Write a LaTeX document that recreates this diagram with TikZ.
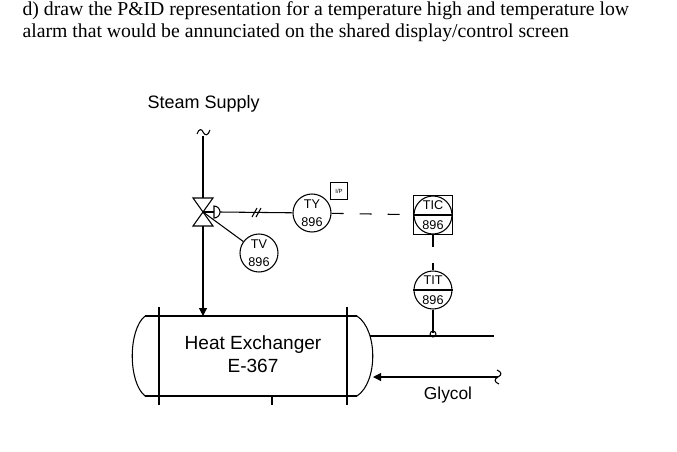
\documentclass[tikz,border=0pt]{standalone}
\usepackage{fontspec}
\setmainfont{Liberation Serif}
\newfontfamily\arial{Liberation Sans}
\usetikzlibrary{arrows.meta}
\begin{document}
\begin{tikzpicture}[x=0.75pt,y=-0.75pt,line width=0.8pt,
  inst/.style={circle,draw,minimum size=28.5pt,inner sep=0pt},
  itxt/.style={font=\arial\fontsize{9.5}{10}\selectfont},
  sig/.style={dash pattern=on 9pt off 12pt},
  lbl/.style={font=\arial\fontsize{13}{15}\selectfont,inner sep=0pt}]
\useasboundingbox (0,0) rectangle (677,451);
\node[anchor=north west,align=left,inner sep=0pt,font=\fontsize{14.8}{16.5}\selectfont] (q) at (22,1)
 {d) draw the P\&ID representation for a temperature high and temperature low\\alarm that would be annunciated on the shared display/control screen};
\node[lbl,anchor=west,font=\arial\fontsize{13.5}{15}\selectfont] (ss) at (147,104) {Steam Supply};
% vessel
\coordinate (vtl) at (145,316); \coordinate (vtr) at (357,316);
\coordinate (vbl) at (145,396); \coordinate (vbr) at (357,396);
\draw (vtl) -- (vtr) (vbl) -- (vbr);
\draw (vtl) .. controls (128,330) and (128,382) .. (vbl);
\draw (vtr) .. controls (378,330) and (378,382) .. (vbr);
\draw (159,307) -- (159,405) (347,307) -- (347,405) (272,396) -- (272,405);
\node[lbl,align=center,font=\arial\fontsize{14.3}{17}\selectfont] (hx) at (253,354) {Heat Exchanger\\E-367};
% steam line
\coordinate (vc) at (203,212);
\draw (203,136) -- (203,198);
\draw (197,134) .. controls (199,128) and (202,129) .. (203,132) .. controls (205,136) and (208,136) .. (210,130);
\draw[-{Triangle[length=6pt,width=6pt]}] (203,226) -- (203,316);
\draw (193,198) -- (213,198) -- (193,226) -- (213,226) -- cycle;
\draw (vc) -- (214,212);
\draw (214,218) arc[start angle=-90,end angle=90,radius=4.5pt] -- cycle;
\node[inst] (ty) at (312,213) {}; \node[itxt] at (312,204) {TY}; \node[itxt] at (312,222) {896};
\draw (220,212) -- (ty);
\draw (252,217) -- (257,208) (256,217) -- (261,208);
\node[draw,minimum size=13pt,inner sep=0pt,font=\arial\fontsize{4.5}{5}\selectfont] (ip) at (339,191) {I/P};
\node[inst] (tv) at (259,253) {}; \node[itxt] at (259,244) {TV}; \node[itxt] at (259,262) {896};
\draw (vc) -- (tv);
% TIC
\node[draw,minimum size=29.5pt,inner sep=0pt] (ticb) at (433,215) {};
\node[inst] (tic) at (433,215) {};
\draw (ticb.west) -- (ticb.east);
\node[itxt] at (433,205) {TIC}; \node[itxt] at (433,225) {896};
\draw[sig] (ty) -- (ticb);
\node[inst] (tit) at (433,290) {};
\draw (tit.west) -- (tit.east);
\node[itxt] at (433,280) {TIT}; \node[itxt] at (433,300) {896};
\draw[sig] (ticb) -- (tit);
% glycol
\draw (370,336) -- (494,336);
\draw (tit) -- (433,333);
\draw (433,334) circle (2.2pt);
\draw[{Triangle[length=6pt,width=6pt]}-] (373,377) -- (498,377);
\draw (497,370) .. controls (502,372) and (502,375) .. (498,377) .. controls (494,379) and (494,382) .. (499,384);
\node[lbl] (gly) at (448,395) {Glycol};
\end{tikzpicture}
\end{document}
